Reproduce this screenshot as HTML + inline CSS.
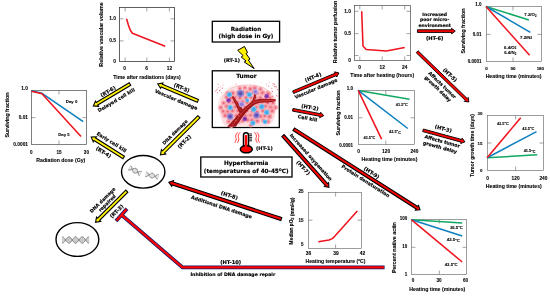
<!DOCTYPE html>
<html><head><meta charset="utf-8"><title>Radiation and hyperthermia</title>
<style>html,body{margin:0;padding:0;background:#fff}svg{display:block}</style></head>
<body>
<svg width="550" height="296" viewBox="0 0 550 296">
<rect width="550" height="296" fill="#fff"/>
<rect x="119.5" y="7.5" width="55.00" height="54.00" fill="#fff" stroke="#3a3a3a" stroke-width="0.8"/>
<path d="M125.10 61.5v-4.0M125.10 7.5v4.0M146.80 61.5v-4.0M146.80 7.5v4.0M169.40 61.5v-4.0M169.40 7.5v4.0M119.5 18.80h4.0M174.5 18.80h-4.0M119.5 40.90h4.0M174.5 40.90h-4.0" stroke="#666" stroke-width="0.6" fill="none"/>
<text x="124.60" y="68.70" font-size="4.8" font-family="Liberation Sans, sans-serif" font-weight="bold" stroke="#111" stroke-width="0.1" text-anchor="middle" dominant-baseline="central" fill="#000">0</text>
<text x="146.60" y="68.70" font-size="4.8" font-family="Liberation Sans, sans-serif" font-weight="bold" stroke="#111" stroke-width="0.1" text-anchor="middle" dominant-baseline="central" fill="#000">6</text>
<text x="169.40" y="68.70" font-size="4.8" font-family="Liberation Sans, sans-serif" font-weight="bold" stroke="#111" stroke-width="0.1" text-anchor="middle" dominant-baseline="central" fill="#000">12</text>
<text x="116.00" y="18.80" font-size="4.8" font-family="Liberation Sans, sans-serif" font-weight="bold" stroke="#111" stroke-width="0.1" text-anchor="end" dominant-baseline="central" fill="#000">1.0</text>
<text x="116.00" y="40.80" font-size="4.8" font-family="Liberation Sans, sans-serif" font-weight="bold" stroke="#111" stroke-width="0.1" text-anchor="end" dominant-baseline="central" fill="#000">0.5</text>
<text x="116.00" y="61.20" font-size="4.8" font-family="Liberation Sans, sans-serif" font-weight="bold" stroke="#111" stroke-width="0.1" text-anchor="end" dominant-baseline="central" fill="#000">0</text>
<text x="147.00" y="76.80" font-size="5.2" font-family="Liberation Sans, sans-serif" font-weight="bold" stroke="#111" stroke-width="0.1" text-anchor="middle" dominant-baseline="central" fill="#000">Time after radiations (days)</text>
<text x="100.70" y="34.50" font-size="5.4" font-family="Liberation Sans, sans-serif" font-weight="bold" stroke="#111" stroke-width="0.1" text-anchor="middle" dominant-baseline="central" fill="#000" transform="rotate(-90.00 100.70 34.50)">Relative vascular volume</text>
<polyline points="126.50,18.80 128.40,25.00 130.20,30.00 132.40,33.20 165.20,46.30" fill="none" stroke="#f0141e" stroke-width="1.55" stroke-linejoin="round" stroke-linecap="butt"/>
<rect x="31.5" y="90.5" width="55.00" height="54.00" fill="#fff" stroke="#4a4a4a" stroke-width="0.7"/>
<path d="M59.00 144.5v-4.0M59.00 90.5v4.0M31.5 117.60h4.0M86.5 117.60h-4.0" stroke="#666" stroke-width="0.6" fill="none"/>
<text x="31.40" y="152.30" font-size="4.6" font-family="Liberation Sans, sans-serif" font-weight="bold" stroke="#111" stroke-width="0.1" text-anchor="middle" dominant-baseline="central" fill="#000">0</text>
<text x="59.00" y="152.30" font-size="4.6" font-family="Liberation Sans, sans-serif" font-weight="bold" stroke="#111" stroke-width="0.1" text-anchor="middle" dominant-baseline="central" fill="#000">15</text>
<text x="86.40" y="152.30" font-size="4.6" font-family="Liberation Sans, sans-serif" font-weight="bold" stroke="#111" stroke-width="0.1" text-anchor="middle" dominant-baseline="central" fill="#000">30</text>
<text x="28.00" y="88.20" font-size="4.8" font-family="Liberation Sans, sans-serif" font-weight="bold" stroke="#111" stroke-width="0.1" text-anchor="end" dominant-baseline="central" fill="#000">1.0</text>
<text x="28.00" y="117.70" font-size="4.8" font-family="Liberation Sans, sans-serif" font-weight="bold" stroke="#111" stroke-width="0.1" text-anchor="end" dominant-baseline="central" fill="#000">0.01</text>
<text x="28.00" y="144.40" font-size="4.8" font-family="Liberation Sans, sans-serif" font-weight="bold" stroke="#111" stroke-width="0.1" text-anchor="end" dominant-baseline="central" fill="#000">0.0001</text>
<text x="60.80" y="160.00" font-size="5.2" font-family="Liberation Sans, sans-serif" font-weight="bold" stroke="#111" stroke-width="0.1" text-anchor="middle" dominant-baseline="central" fill="#000">Radiation dose (Gy)</text>
<text x="7.40" y="115.00" font-size="5.3" font-family="Liberation Sans, sans-serif" font-weight="bold" stroke="#111" stroke-width="0.1" text-anchor="middle" dominant-baseline="central" fill="#000" transform="rotate(-90.00 7.40 115.00)">Surviving fraction</text>
<polyline points="31.40,90.80 42.00,93.30 83.20,121.60" fill="none" stroke="#0e7fbe" stroke-width="1.55" stroke-linejoin="round" stroke-linecap="butt"/>
<polyline points="31.40,91.20 42.00,93.80 81.00,136.60" fill="none" stroke="#f0141e" stroke-width="1.55" stroke-linejoin="round" stroke-linecap="butt"/>
<text x="71.60" y="101.80" font-size="4.3" font-family="Liberation Sans, sans-serif" font-weight="bold" stroke="#111" stroke-width="0.1" text-anchor="middle" dominant-baseline="central" fill="#000">Day 0</text>
<text x="64.00" y="134.80" font-size="4.3" font-family="Liberation Sans, sans-serif" font-weight="bold" stroke="#111" stroke-width="0.1" text-anchor="middle" dominant-baseline="central" fill="#000">Day 5</text>
<rect x="354.5" y="5.5" width="56.00" height="55.00" fill="#fff" stroke="#4a4a4a" stroke-width="0.7"/>
<path d="M359.80 60.5v-4.0M359.80 5.5v4.0M382.20 60.5v-4.0M382.20 5.5v4.0M404.70 60.5v-4.0M404.70 5.5v4.0M354.5 11.30h4.0M410.5 11.30h-4.0M354.5 33.60h4.0M410.5 33.60h-4.0M354.5 55.50h4.0M410.5 55.50h-4.0" stroke="#666" stroke-width="0.6" fill="none"/>
<text x="359.60" y="67.10" font-size="4.8" font-family="Liberation Sans, sans-serif" font-weight="bold" stroke="#111" stroke-width="0.1" text-anchor="middle" dominant-baseline="central" fill="#000">0</text>
<text x="382.20" y="67.10" font-size="4.8" font-family="Liberation Sans, sans-serif" font-weight="bold" stroke="#111" stroke-width="0.1" text-anchor="middle" dominant-baseline="central" fill="#000">12</text>
<text x="404.70" y="67.10" font-size="4.8" font-family="Liberation Sans, sans-serif" font-weight="bold" stroke="#111" stroke-width="0.1" text-anchor="middle" dominant-baseline="central" fill="#000">24</text>
<text x="351.00" y="11.30" font-size="4.8" font-family="Liberation Sans, sans-serif" font-weight="bold" stroke="#111" stroke-width="0.1" text-anchor="end" dominant-baseline="central" fill="#000">1.0</text>
<text x="351.00" y="33.60" font-size="4.8" font-family="Liberation Sans, sans-serif" font-weight="bold" stroke="#111" stroke-width="0.1" text-anchor="end" dominant-baseline="central" fill="#000">0.5</text>
<text x="351.00" y="60.60" font-size="4.8" font-family="Liberation Sans, sans-serif" font-weight="bold" stroke="#111" stroke-width="0.1" text-anchor="end" dominant-baseline="central" fill="#000">0</text>
<text x="382.30" y="74.50" font-size="5.2" font-family="Liberation Sans, sans-serif" font-weight="bold" stroke="#111" stroke-width="0.1" text-anchor="middle" dominant-baseline="central" fill="#000">Time after heating (hours)</text>
<text x="335.40" y="32.00" font-size="5.3" font-family="Liberation Sans, sans-serif" font-weight="bold" stroke="#111" stroke-width="0.1" text-anchor="middle" dominant-baseline="central" fill="#000" transform="rotate(-90.00 335.40 32.00)">Relative tumor perfusion</text>
<polyline points="361.70,11.20 363.00,46.00 366.20,49.60 386.30,51.10 404.70,47.50" fill="none" stroke="#f0141e" stroke-width="1.55" stroke-linejoin="round" stroke-linecap="butt"/>
<rect x="486.5" y="6.5" width="55.00" height="55.00" fill="#fff" stroke="#5a5a5a" stroke-width="0.6"/>
<path d="M513.00 61.5v-4.0M513.00 6.5v4.0M486.5 34.40h4.0M541.5 34.40h-4.0" stroke="#666" stroke-width="0.6" fill="none"/>
<text x="486.40" y="68.20" font-size="4.4" font-family="Liberation Sans, sans-serif" font-weight="bold" stroke="#111" stroke-width="0.1" text-anchor="middle" dominant-baseline="central" fill="#000">0</text>
<text x="513.00" y="68.20" font-size="4.4" font-family="Liberation Sans, sans-serif" font-weight="bold" stroke="#111" stroke-width="0.1" text-anchor="middle" dominant-baseline="central" fill="#000">90</text>
<text x="540.30" y="68.20" font-size="4.4" font-family="Liberation Sans, sans-serif" font-weight="bold" stroke="#111" stroke-width="0.1" text-anchor="middle" dominant-baseline="central" fill="#000">180</text>
<text x="481.50" y="4.90" font-size="4.5" font-family="Liberation Sans, sans-serif" font-weight="bold" stroke="#111" stroke-width="0.1" text-anchor="end" dominant-baseline="central" fill="#000">1.0</text>
<text x="481.50" y="34.40" font-size="4.5" font-family="Liberation Sans, sans-serif" font-weight="bold" stroke="#111" stroke-width="0.1" text-anchor="end" dominant-baseline="central" fill="#000">0.01</text>
<text x="481.50" y="61.80" font-size="4.5" font-family="Liberation Sans, sans-serif" font-weight="bold" stroke="#111" stroke-width="0.1" text-anchor="end" dominant-baseline="central" fill="#000">0.0001</text>
<text x="513.60" y="76.40" font-size="5.2" font-family="Liberation Sans, sans-serif" font-weight="bold" stroke="#111" stroke-width="0.1" text-anchor="middle" dominant-baseline="central" fill="#000">Heating time (minutes)</text>
<text x="462.90" y="31.00" font-size="5.3" font-family="Liberation Sans, sans-serif" font-weight="bold" stroke="#111" stroke-width="0.1" text-anchor="middle" dominant-baseline="central" fill="#000" transform="rotate(-90.00 462.90 31.00)">Surviving fraction</text>
<polyline points="486.00,6.50 528.90,19.90" fill="none" stroke="#10a862" stroke-width="1.55" stroke-linejoin="round" stroke-linecap="butt"/>
<polyline points="486.00,6.50 530.40,32.30" fill="none" stroke="#0e7fbe" stroke-width="1.55" stroke-linejoin="round" stroke-linecap="butt"/>
<polyline points="486.00,6.50 529.60,55.30" fill="none" stroke="#f0141e" stroke-width="1.55" stroke-linejoin="round" stroke-linecap="butt"/>
<text x="530.40" y="14.60" font-size="4.4" font-family="Liberation Sans, sans-serif" font-weight="bold" stroke="#111" stroke-width="0.1" text-anchor="middle" dominant-baseline="central" fill="#000">7.2/O<tspan font-size="2.8" dy="0.9">2</tspan></text>
<text x="526.00" y="37.30" font-size="4.4" font-family="Liberation Sans, sans-serif" font-weight="bold" stroke="#111" stroke-width="0.1" text-anchor="middle" dominant-baseline="central" fill="#000">7.2/N<tspan font-size="2.8" dy="0.9">2</tspan></text>
<text x="510.20" y="47.00" font-size="4.4" font-family="Liberation Sans, sans-serif" font-weight="bold" stroke="#111" stroke-width="0.1" text-anchor="middle" dominant-baseline="central" fill="#000">6.4/O<tspan font-size="2.8" dy="0.9">2</tspan></text>
<text x="510.20" y="52.70" font-size="4.4" font-family="Liberation Sans, sans-serif" font-weight="bold" stroke="#111" stroke-width="0.1" text-anchor="middle" dominant-baseline="central" fill="#000">6.4/N<tspan font-size="2.8" dy="0.9">2</tspan></text>
<rect x="358.5" y="90.5" width="56.00" height="54.00" fill="#fff" stroke="#5a5a5a" stroke-width="0.6"/>
<path d="M385.80 144.5v-4.0M385.80 90.5v4.0M358.5 117.80h4.0M414.5 117.80h-4.0" stroke="#666" stroke-width="0.6" fill="none"/>
<text x="358.70" y="151.50" font-size="4.8" font-family="Liberation Sans, sans-serif" font-weight="bold" stroke="#111" stroke-width="0.1" text-anchor="middle" dominant-baseline="central" fill="#000">0</text>
<text x="386.10" y="151.50" font-size="4.8" font-family="Liberation Sans, sans-serif" font-weight="bold" stroke="#111" stroke-width="0.1" text-anchor="middle" dominant-baseline="central" fill="#000">120</text>
<text x="414.40" y="151.50" font-size="4.8" font-family="Liberation Sans, sans-serif" font-weight="bold" stroke="#111" stroke-width="0.1" text-anchor="middle" dominant-baseline="central" fill="#000">240</text>
<text x="352.90" y="88.30" font-size="4.5" font-family="Liberation Sans, sans-serif" font-weight="bold" stroke="#111" stroke-width="0.1" text-anchor="end" dominant-baseline="central" fill="#000">1.0</text>
<text x="352.90" y="117.80" font-size="4.5" font-family="Liberation Sans, sans-serif" font-weight="bold" stroke="#111" stroke-width="0.1" text-anchor="end" dominant-baseline="central" fill="#000">0.01</text>
<text x="352.90" y="145.00" font-size="4.5" font-family="Liberation Sans, sans-serif" font-weight="bold" stroke="#111" stroke-width="0.1" text-anchor="end" dominant-baseline="central" fill="#000">0.0001</text>
<text x="389.50" y="158.60" font-size="5.2" font-family="Liberation Sans, sans-serif" font-weight="bold" stroke="#111" stroke-width="0.1" text-anchor="middle" dominant-baseline="central" fill="#000">Heating time (minutes)</text>
<text x="337.80" y="113.00" font-size="5.3" font-family="Liberation Sans, sans-serif" font-weight="bold" stroke="#111" stroke-width="0.1" text-anchor="middle" dominant-baseline="central" fill="#000" transform="rotate(-90.00 337.80 113.00)">Surviving fraction</text>
<polyline points="358.20,90.40 409.60,99.30" fill="none" stroke="#10a862" stroke-width="1.55" stroke-linejoin="round" stroke-linecap="butt"/>
<polyline points="358.20,90.40 407.80,128.50" fill="none" stroke="#0e7fbe" stroke-width="1.55" stroke-linejoin="round" stroke-linecap="butt"/>
<polyline points="358.20,90.40 381.60,139.20" fill="none" stroke="#f0141e" stroke-width="1.55" stroke-linejoin="round" stroke-linecap="butt"/>
<text x="401.80" y="104.00" font-size="3.9" font-family="Liberation Sans, sans-serif" font-weight="bold" stroke="#111" stroke-width="0.1" text-anchor="middle" dominant-baseline="central" fill="#000">41.5<tspan font-size="2.5" dy="-1.1">o</tspan><tspan dy="1.1">C</tspan></text>
<text x="395.00" y="131.50" font-size="3.9" font-family="Liberation Sans, sans-serif" font-weight="bold" stroke="#111" stroke-width="0.1" text-anchor="middle" dominant-baseline="central" fill="#000">42.5<tspan font-size="2.5" dy="-1.1">o</tspan><tspan dy="1.1">C</tspan></text>
<text x="369.40" y="137.40" font-size="3.9" font-family="Liberation Sans, sans-serif" font-weight="bold" stroke="#111" stroke-width="0.1" text-anchor="middle" dominant-baseline="central" fill="#000">43.5<tspan font-size="2.5" dy="-1.1">o</tspan><tspan dy="1.1">C</tspan></text>
<rect x="487.5" y="115.5" width="56.00" height="55.00" fill="#fff" stroke="#5a5a5a" stroke-width="0.6"/>
<path d="M515.60 170.5v-4.0M515.60 115.5v4.0M487.5 143.00h4.0M543.5 143.00h-4.0" stroke="#666" stroke-width="0.6" fill="none"/>
<text x="487.60" y="178.20" font-size="4.8" font-family="Liberation Sans, sans-serif" font-weight="bold" stroke="#111" stroke-width="0.1" text-anchor="middle" dominant-baseline="central" fill="#000">0</text>
<text x="515.60" y="178.20" font-size="4.8" font-family="Liberation Sans, sans-serif" font-weight="bold" stroke="#111" stroke-width="0.1" text-anchor="middle" dominant-baseline="central" fill="#000">120</text>
<text x="543.40" y="178.20" font-size="4.8" font-family="Liberation Sans, sans-serif" font-weight="bold" stroke="#111" stroke-width="0.1" text-anchor="middle" dominant-baseline="central" fill="#000">240</text>
<text x="482.50" y="113.80" font-size="4.4" font-family="Liberation Sans, sans-serif" font-weight="bold" stroke="#111" stroke-width="0.1" text-anchor="end" dominant-baseline="central" fill="#000">30</text>
<text x="482.50" y="143.00" font-size="4.4" font-family="Liberation Sans, sans-serif" font-weight="bold" stroke="#111" stroke-width="0.1" text-anchor="end" dominant-baseline="central" fill="#000">15</text>
<text x="482.50" y="170.00" font-size="4.4" font-family="Liberation Sans, sans-serif" font-weight="bold" stroke="#111" stroke-width="0.1" text-anchor="end" dominant-baseline="central" fill="#000">0</text>
<text x="513.80" y="186.30" font-size="5.2" font-family="Liberation Sans, sans-serif" font-weight="bold" stroke="#111" stroke-width="0.1" text-anchor="middle" dominant-baseline="central" fill="#000">Heating time (minutes)</text>
<text x="471.60" y="145.50" font-size="5.15" font-family="Liberation Sans, sans-serif" font-weight="bold" stroke="#111" stroke-width="0.1" text-anchor="middle" dominant-baseline="central" fill="#000" transform="rotate(-90.00 471.60 145.50)">Tumor growth time (days)</text>
<polyline points="487.10,157.80 537.20,154.80" fill="none" stroke="#10a862" stroke-width="1.55" stroke-linejoin="round" stroke-linecap="butt"/>
<polyline points="487.10,157.80 536.50,131.60" fill="none" stroke="#0e7fbe" stroke-width="1.55" stroke-linejoin="round" stroke-linecap="butt"/>
<polyline points="487.10,157.80 520.70,117.80" fill="none" stroke="#f0141e" stroke-width="1.55" stroke-linejoin="round" stroke-linecap="butt"/>
<text x="502.90" y="123.40" font-size="3.9" font-family="Liberation Sans, sans-serif" font-weight="bold" stroke="#111" stroke-width="0.1" text-anchor="middle" dominant-baseline="central" fill="#000">43.5<tspan font-size="2.5" dy="-1.1">o</tspan><tspan dy="1.1">C</tspan></text>
<text x="528.30" y="128.00" font-size="3.9" font-family="Liberation Sans, sans-serif" font-weight="bold" stroke="#111" stroke-width="0.1" text-anchor="middle" dominant-baseline="central" fill="#000">42.5<tspan font-size="2.5" dy="-1.1">o</tspan><tspan dy="1.1">C</tspan></text>
<text x="529.60" y="150.70" font-size="3.9" font-family="Liberation Sans, sans-serif" font-weight="bold" stroke="#111" stroke-width="0.1" text-anchor="middle" dominant-baseline="central" fill="#000">41.5<tspan font-size="2.5" dy="-1.1">o</tspan><tspan dy="1.1">C</tspan></text>
<rect x="308.5" y="192.5" width="53.00" height="56.00" fill="#fff" stroke="#5a5a5a" stroke-width="0.6"/>
<path d="M335.60 248.5v-4.0M335.60 192.5v4.0M308.5 220.20h4.0M361.5 220.20h-4.0" stroke="#666" stroke-width="0.6" fill="none"/>
<text x="308.60" y="253.80" font-size="4.9" font-family="Liberation Sans, sans-serif" font-weight="bold" stroke="#111" stroke-width="0.1" text-anchor="middle" dominant-baseline="central" fill="#000">36</text>
<text x="336.00" y="253.80" font-size="4.9" font-family="Liberation Sans, sans-serif" font-weight="bold" stroke="#111" stroke-width="0.1" text-anchor="middle" dominant-baseline="central" fill="#000">39</text>
<text x="362.60" y="253.80" font-size="4.9" font-family="Liberation Sans, sans-serif" font-weight="bold" stroke="#111" stroke-width="0.1" text-anchor="middle" dominant-baseline="central" fill="#000">42</text>
<text x="303.50" y="191.00" font-size="4.5" font-family="Liberation Sans, sans-serif" font-weight="bold" stroke="#111" stroke-width="0.1" text-anchor="end" dominant-baseline="central" fill="#000">25</text>
<text x="303.50" y="220.20" font-size="4.5" font-family="Liberation Sans, sans-serif" font-weight="bold" stroke="#111" stroke-width="0.1" text-anchor="end" dominant-baseline="central" fill="#000">15</text>
<text x="303.50" y="244.90" font-size="4.5" font-family="Liberation Sans, sans-serif" font-weight="bold" stroke="#111" stroke-width="0.1" text-anchor="end" dominant-baseline="central" fill="#000">5</text>
<text x="335.50" y="260.80" font-size="5.1" font-family="Liberation Sans, sans-serif" font-weight="bold" stroke="#111" stroke-width="0.1" text-anchor="middle" dominant-baseline="central" fill="#000">Heating temperature (<tspan font-size="3.2" dy="-1.2">o</tspan><tspan dy="1.2">C)</tspan></text>
<text x="291.60" y="221.00" font-size="4.9" font-family="Liberation Sans, sans-serif" font-weight="bold" stroke="#111" stroke-width="0.1" text-anchor="middle" dominant-baseline="central" fill="#000" transform="rotate(-90.00 291.60 221.00)">Median pO<tspan font-size="3.4" dy="1">2</tspan><tspan dy="-1"> (mmHg)</tspan></text>
<polyline points="318.30,241.80 329.00,240.00 332.30,238.60 334.50,236.50 357.30,211.00" fill="none" stroke="#f0141e" stroke-width="1.55" stroke-linejoin="round" stroke-linecap="butt"/>
<rect x="411.5" y="219.5" width="55.00" height="55.00" fill="#fff" stroke="#5a5a5a" stroke-width="0.6"/>
<path d="M439.30 274.5v-4.0M439.30 219.5v4.0M411.5 247.30h4.0M466.5 247.30h-4.0" stroke="#666" stroke-width="0.6" fill="none"/>
<text x="413.00" y="280.60" font-size="4.6" font-family="Liberation Sans, sans-serif" font-weight="bold" stroke="#111" stroke-width="0.1" text-anchor="middle" dominant-baseline="central" fill="#000">0</text>
<text x="439.00" y="280.60" font-size="4.6" font-family="Liberation Sans, sans-serif" font-weight="bold" stroke="#111" stroke-width="0.1" text-anchor="middle" dominant-baseline="central" fill="#000">30</text>
<text x="465.60" y="280.60" font-size="4.6" font-family="Liberation Sans, sans-serif" font-weight="bold" stroke="#111" stroke-width="0.1" text-anchor="middle" dominant-baseline="central" fill="#000">60</text>
<text x="407.20" y="218.00" font-size="4.5" font-family="Liberation Sans, sans-serif" font-weight="bold" stroke="#111" stroke-width="0.1" text-anchor="end" dominant-baseline="central" fill="#000">100</text>
<text x="407.20" y="246.80" font-size="4.5" font-family="Liberation Sans, sans-serif" font-weight="bold" stroke="#111" stroke-width="0.1" text-anchor="end" dominant-baseline="central" fill="#000">10</text>
<text x="407.20" y="274.20" font-size="4.5" font-family="Liberation Sans, sans-serif" font-weight="bold" stroke="#111" stroke-width="0.1" text-anchor="end" dominant-baseline="central" fill="#000">1</text>
<text x="437.30" y="288.80" font-size="5.2" font-family="Liberation Sans, sans-serif" font-weight="bold" stroke="#111" stroke-width="0.1" text-anchor="middle" dominant-baseline="central" fill="#000">Heating time (minutes)</text>
<text x="393.60" y="247.60" font-size="5.4" font-family="Liberation Sans, sans-serif" font-weight="bold" stroke="#111" stroke-width="0.1" text-anchor="middle" dominant-baseline="central" fill="#000" transform="rotate(-90.00 393.60 247.60)">Percent native actin</text>
<polyline points="411.60,219.80 462.20,223.10" fill="none" stroke="#10a862" stroke-width="1.55" stroke-linejoin="round" stroke-linecap="butt"/>
<polyline points="411.60,219.80 462.20,235.90" fill="none" stroke="#0e7fbe" stroke-width="1.55" stroke-linejoin="round" stroke-linecap="butt"/>
<polyline points="411.60,219.80 462.20,262.00" fill="none" stroke="#f0141e" stroke-width="1.55" stroke-linejoin="round" stroke-linecap="butt"/>
<text x="456.40" y="227.30" font-size="4.3" font-family="Liberation Sans, sans-serif" font-weight="bold" stroke="#111" stroke-width="0.1" text-anchor="middle" dominant-baseline="central" fill="#000">36.5<tspan font-size="2.5" dy="-1.1">o</tspan><tspan dy="1.1">C</tspan></text>
<text x="453.30" y="239.60" font-size="4.3" font-family="Liberation Sans, sans-serif" font-weight="bold" stroke="#111" stroke-width="0.1" text-anchor="middle" dominant-baseline="central" fill="#000">42.5<tspan font-size="2.5" dy="-1.1">o</tspan><tspan dy="1.1">C</tspan></text>
<text x="451.20" y="264.30" font-size="4.3" font-family="Liberation Sans, sans-serif" font-weight="bold" stroke="#111" stroke-width="0.1" text-anchor="middle" dominant-baseline="central" fill="#000">43.5<tspan font-size="2.5" dy="-1.1">o</tspan><tspan dy="1.1">C</tspan></text>
<rect x="212.3" y="21.3" width="67.30" height="20.70" fill="#fff" stroke="#000" stroke-width="1.3"/>
<text x="246.00" y="28.50" font-size="5.65" font-family="DejaVu Sans, Liberation Sans, sans-serif" font-weight="bold" stroke="#000" stroke-width="0.16" text-anchor="middle" dominant-baseline="central" fill="#000">Radiation</text>
<text x="246.00" y="36.00" font-size="5.7" font-family="DejaVu Sans, Liberation Sans, sans-serif" font-weight="bold" stroke="#000" stroke-width="0.16" text-anchor="middle" dominant-baseline="central" fill="#000">(high dose in Gy)</text>
<rect x="212.3" y="70.8" width="67.00" height="56.70" fill="#fff" stroke="#000" stroke-width="1.3"/>
<text x="246.40" y="76.20" font-size="5.8" font-family="DejaVu Sans, Liberation Sans, sans-serif" font-weight="bold" stroke="#000" stroke-width="0.16" text-anchor="middle" dominant-baseline="central" fill="#000">Tumor</text>
<rect x="200.8" y="157" width="91.20" height="20.00" fill="#fff" stroke="#000" stroke-width="1.3"/>
<text x="246.20" y="163.30" font-size="5.7" font-family="DejaVu Sans, Liberation Sans, sans-serif" font-weight="bold" stroke="#000" stroke-width="0.16" text-anchor="middle" dominant-baseline="central" fill="#000">Hyperthermia</text>
<text x="246.20" y="171.00" font-size="5.7" font-family="DejaVu Sans, Liberation Sans, sans-serif" font-weight="bold" stroke="#000" stroke-width="0.16" text-anchor="middle" dominant-baseline="central" fill="#000">(temperatures of 40-45<tspan font-size="3.5" dy="-1.1">O</tspan><tspan dy="1.1">C)</tspan></text>
<polygon points="237.7,50.3 244.5,46.5 247.6,52.6 246,53.5 250,59.1 248.3,60 254.2,68.6 244.2,62 246,60.9 241.2,57 243.1,55.7" fill="#fff200" stroke="#000" stroke-width="1.0" stroke-linejoin="miter"/>
<text x="231.90" y="59.70" font-size="4.95" font-family="DejaVu Sans, Liberation Sans, sans-serif" font-weight="bold" stroke="#000" stroke-width="0.16" text-anchor="middle" dominant-baseline="central" fill="#000">(RT-1)</text>
<g id="thermo">
<rect x="243.5" y="132.7" width="5.0" height="15" rx="2.5" fill="#fff" stroke="#000" stroke-width="1.5"/>
<ellipse cx="246.3" cy="149.2" rx="5.9" ry="3.6" fill="#f00" stroke="#000" stroke-width="1.6"/>
<rect x="244.8" y="135" width="2.4" height="12.7" fill="#f00"/>
<ellipse cx="246.3" cy="149.2" rx="4.6" ry="2.5" fill="#f00"/>
<path d="M249.2 134h2.8M249.2 135.7h2.8M249.2 137.4h2.8M249.2 139.1h2.8M249.2 140.8h2.8" stroke="#000" stroke-width="0.9"/>
<path d="M237.6 132.3 c-1.7 2 -2.4 3.4 -1.7 5.2 c0.7 1.8 0.3 3.2 -1.2 5.3" fill="none" stroke="#f00" stroke-width="0.75"/>
<path d="M240.2 132.3 c-1.7 2 -2.4 3.4 -1.7 5.2 c0.7 1.8 0.3 3.2 -1.2 5.3" fill="none" stroke="#f00" stroke-width="0.75"/>
<path d="M254.5 132.3 c1.7 2 2.4 3.4 1.7 5.2 c-0.7 1.8 -0.3 3.2 1.2 5.3" fill="none" stroke="#f00" stroke-width="0.75"/>
<path d="M256.9 132.3 c1.7 2 2.4 3.4 1.7 5.2 c-0.7 1.8 -0.3 3.2 1.2 5.3" fill="none" stroke="#f00" stroke-width="0.75"/>
</g>
<text x="264.40" y="147.50" font-size="4.95" font-family="DejaVu Sans, Liberation Sans, sans-serif" font-weight="bold" stroke="#000" stroke-width="0.16" text-anchor="middle" dominant-baseline="central" fill="#000">(HT-1)</text>
<g id="tumor">
<path d="M221 118 C217 108 219 96 226 91 C232 85 242 84 250 85 C258 84 268 88 272 94 C277 100 277 112 274 119 C272 124 268 126.5 262 126.5 L226 126.5 C223 125 222 122 221 118Z" fill="#fcdde0"/>
<path d="M222 100 C224 90 236 84 250 85 C262 85 272 90 275 100" fill="none" stroke="#e9b8a8" stroke-width="0.5"/>
<path d="M219 112 C216 100 222 88 236 85" fill="none" stroke="#f3c9c0" stroke-width="0.4"/>
<circle cx="239.9" cy="88.4" r="2.4" fill="#f7a4ae"/><circle cx="239.9" cy="88.4" r="1.0" fill="#e96878"/>
<circle cx="244.8" cy="87.8" r="2.4" fill="#f7a4ae"/><circle cx="244.8" cy="87.8" r="1.0" fill="#e96878"/>
<circle cx="250.3" cy="89.0" r="2.8" fill="#f7a4ae"/><circle cx="250.3" cy="89.0" r="1.2" fill="#e96878"/>
<circle cx="254.7" cy="88.1" r="2.8" fill="#f7a4ae"/><circle cx="254.7" cy="88.1" r="1.2" fill="#e96878"/>
<circle cx="260.4" cy="89.2" r="2.4" fill="#f7a4ae"/><circle cx="260.4" cy="89.2" r="1.0" fill="#e96878"/>
<circle cx="228.0" cy="93.6" r="2.8" fill="#f7a4ae"/><circle cx="228.0" cy="93.6" r="1.2" fill="#e96878"/>
<circle cx="232.7" cy="93.2" r="2.9" fill="#f7a4ae"/><circle cx="232.7" cy="93.2" r="1.2" fill="#e96878"/>
<circle cx="238.3" cy="92.9" r="2.7" fill="#f7a4ae"/><circle cx="238.3" cy="92.9" r="1.1" fill="#e96878"/>
<circle cx="243.1" cy="92.4" r="2.5" fill="#f7a4ae"/><circle cx="243.1" cy="92.4" r="1.1" fill="#e96878"/>
<circle cx="247.2" cy="92.6" r="2.6" fill="#f7a4ae"/><circle cx="247.2" cy="92.6" r="1.1" fill="#e96878"/>
<circle cx="253.1" cy="93.0" r="2.4" fill="#f7a4ae"/><circle cx="253.1" cy="93.0" r="1.0" fill="#e96878"/>
<circle cx="257.4" cy="93.2" r="2.3" fill="#f7a4ae"/><circle cx="257.4" cy="93.2" r="1.0" fill="#e96878"/>
<circle cx="262.5" cy="92.8" r="2.9" fill="#f7a4ae"/><circle cx="262.5" cy="92.8" r="1.2" fill="#e96878"/>
<circle cx="268.0" cy="93.4" r="2.7" fill="#f7a4ae"/><circle cx="268.0" cy="93.4" r="1.1" fill="#e96878"/>
<circle cx="226.7" cy="97.1" r="2.6" fill="#f7a4ae"/><circle cx="226.7" cy="97.1" r="1.1" fill="#e96878"/>
<circle cx="230.7" cy="98.1" r="2.9" fill="#f7a4ae"/><circle cx="230.7" cy="98.1" r="1.2" fill="#e96878"/>
<circle cx="235.1" cy="97.7" r="2.6" fill="#f7a4ae"/><circle cx="235.1" cy="97.7" r="1.1" fill="#e96878"/>
<circle cx="239.9" cy="98.0" r="2.8" fill="#f7a4ae"/><circle cx="239.9" cy="98.0" r="1.2" fill="#e96878"/>
<circle cx="245.9" cy="97.8" r="2.8" fill="#f7a4ae"/><circle cx="245.9" cy="97.8" r="1.2" fill="#e96878"/>
<circle cx="251.0" cy="97.4" r="2.4" fill="#f7a4ae"/><circle cx="251.0" cy="97.4" r="1.0" fill="#e96878"/>
<circle cx="255.6" cy="97.9" r="2.5" fill="#f7a4ae"/><circle cx="255.6" cy="97.9" r="1.0" fill="#e96878"/>
<circle cx="260.3" cy="97.6" r="2.5" fill="#f7a4ae"/><circle cx="260.3" cy="97.6" r="1.0" fill="#e96878"/>
<circle cx="265.6" cy="98.4" r="2.4" fill="#f7a4ae"/><circle cx="265.6" cy="98.4" r="1.0" fill="#e96878"/>
<circle cx="270.0" cy="98.0" r="2.7" fill="#f7a4ae"/><circle cx="270.0" cy="98.0" r="1.1" fill="#e96878"/>
<circle cx="223.6" cy="103.1" r="2.5" fill="#f7a4ae"/><circle cx="223.6" cy="103.1" r="1.0" fill="#e96878"/>
<circle cx="228.8" cy="102.0" r="2.6" fill="#f7a4ae"/><circle cx="228.8" cy="102.0" r="1.1" fill="#e96878"/>
<circle cx="233.0" cy="102.6" r="2.4" fill="#f7a4ae"/><circle cx="233.0" cy="102.6" r="1.0" fill="#e96878"/>
<circle cx="237.3" cy="102.2" r="2.8" fill="#f7a4ae"/><circle cx="237.3" cy="102.2" r="1.2" fill="#e96878"/>
<circle cx="242.5" cy="101.7" r="2.5" fill="#f7a4ae"/><circle cx="242.5" cy="101.7" r="1.1" fill="#e96878"/>
<circle cx="247.2" cy="102.7" r="2.6" fill="#f7a4ae"/><circle cx="247.2" cy="102.7" r="1.1" fill="#e96878"/>
<circle cx="252.2" cy="101.9" r="2.7" fill="#f7a4ae"/><circle cx="252.2" cy="101.9" r="1.1" fill="#e96878"/>
<circle cx="257.5" cy="102.9" r="2.8" fill="#f7a4ae"/><circle cx="257.5" cy="102.9" r="1.2" fill="#e96878"/>
<circle cx="261.9" cy="102.2" r="2.6" fill="#f7a4ae"/><circle cx="261.9" cy="102.2" r="1.1" fill="#e96878"/>
<circle cx="267.6" cy="102.9" r="2.9" fill="#f7a4ae"/><circle cx="267.6" cy="102.9" r="1.2" fill="#e96878"/>
<circle cx="272.9" cy="102.9" r="2.6" fill="#f7a4ae"/><circle cx="272.9" cy="102.9" r="1.1" fill="#e96878"/>
<circle cx="220.8" cy="107.5" r="2.6" fill="#f7a4ae"/><circle cx="220.8" cy="107.5" r="1.1" fill="#e96878"/>
<circle cx="226.6" cy="106.3" r="2.6" fill="#f7a4ae"/><circle cx="226.6" cy="106.3" r="1.1" fill="#e96878"/>
<circle cx="230.3" cy="106.5" r="2.3" fill="#f7a4ae"/><circle cx="230.3" cy="106.5" r="1.0" fill="#e96878"/>
<circle cx="235.3" cy="106.9" r="2.6" fill="#f7a4ae"/><circle cx="235.3" cy="106.9" r="1.1" fill="#e96878"/>
<circle cx="240.7" cy="106.5" r="2.4" fill="#f7a4ae"/><circle cx="240.7" cy="106.5" r="1.0" fill="#e96878"/>
<circle cx="244.7" cy="106.8" r="2.3" fill="#f7a4ae"/><circle cx="244.7" cy="106.8" r="1.0" fill="#e96878"/>
<circle cx="250.2" cy="107.0" r="2.8" fill="#f7a4ae"/><circle cx="250.2" cy="107.0" r="1.2" fill="#e96878"/>
<circle cx="256.0" cy="107.2" r="2.4" fill="#f7a4ae"/><circle cx="256.0" cy="107.2" r="1.0" fill="#e96878"/>
<circle cx="260.2" cy="107.1" r="2.6" fill="#f7a4ae"/><circle cx="260.2" cy="107.1" r="1.1" fill="#e96878"/>
<circle cx="265.4" cy="106.2" r="2.7" fill="#f7a4ae"/><circle cx="265.4" cy="106.2" r="1.1" fill="#e96878"/>
<circle cx="270.6" cy="107.3" r="2.6" fill="#f7a4ae"/><circle cx="270.6" cy="107.3" r="1.1" fill="#e96878"/>
<circle cx="275.5" cy="107.4" r="2.5" fill="#f7a4ae"/><circle cx="275.5" cy="107.4" r="1.0" fill="#e96878"/>
<circle cx="223.2" cy="111.3" r="2.6" fill="#f7a4ae"/><circle cx="223.2" cy="111.3" r="1.1" fill="#e96878"/>
<circle cx="227.7" cy="111.7" r="2.6" fill="#f7a4ae"/><circle cx="227.7" cy="111.7" r="1.1" fill="#e96878"/>
<circle cx="232.5" cy="110.8" r="2.8" fill="#f7a4ae"/><circle cx="232.5" cy="110.8" r="1.2" fill="#e96878"/>
<circle cx="237.6" cy="111.0" r="2.4" fill="#f7a4ae"/><circle cx="237.6" cy="111.0" r="1.0" fill="#e96878"/>
<circle cx="242.7" cy="110.8" r="2.6" fill="#f7a4ae"/><circle cx="242.7" cy="110.8" r="1.1" fill="#e96878"/>
<circle cx="247.1" cy="110.9" r="2.4" fill="#f7a4ae"/><circle cx="247.1" cy="110.9" r="1.0" fill="#e96878"/>
<circle cx="252.2" cy="111.3" r="2.5" fill="#f7a4ae"/><circle cx="252.2" cy="111.3" r="1.0" fill="#e96878"/>
<circle cx="256.9" cy="112.1" r="2.8" fill="#f7a4ae"/><circle cx="256.9" cy="112.1" r="1.2" fill="#e96878"/>
<circle cx="262.8" cy="110.9" r="2.6" fill="#f7a4ae"/><circle cx="262.8" cy="110.9" r="1.1" fill="#e96878"/>
<circle cx="267.1" cy="111.3" r="2.6" fill="#f7a4ae"/><circle cx="267.1" cy="111.3" r="1.1" fill="#e96878"/>
<circle cx="272.2" cy="110.9" r="2.8" fill="#f7a4ae"/><circle cx="272.2" cy="110.9" r="1.2" fill="#e96878"/>
<circle cx="225.2" cy="115.5" r="2.8" fill="#f7a4ae"/><circle cx="225.2" cy="115.5" r="1.2" fill="#e96878"/>
<circle cx="230.5" cy="115.7" r="2.6" fill="#f7a4ae"/><circle cx="230.5" cy="115.7" r="1.1" fill="#e96878"/>
<circle cx="236.2" cy="115.6" r="2.7" fill="#f7a4ae"/><circle cx="236.2" cy="115.6" r="1.1" fill="#e96878"/>
<circle cx="239.8" cy="116.8" r="2.6" fill="#f7a4ae"/><circle cx="239.8" cy="116.8" r="1.1" fill="#e96878"/>
<circle cx="245.5" cy="115.5" r="2.6" fill="#f7a4ae"/><circle cx="245.5" cy="115.5" r="1.1" fill="#e96878"/>
<circle cx="250.5" cy="115.3" r="2.7" fill="#f7a4ae"/><circle cx="250.5" cy="115.3" r="1.1" fill="#e96878"/>
<circle cx="255.3" cy="116.9" r="2.6" fill="#f7a4ae"/><circle cx="255.3" cy="116.9" r="1.1" fill="#e96878"/>
<circle cx="260.8" cy="116.4" r="2.6" fill="#f7a4ae"/><circle cx="260.8" cy="116.4" r="1.1" fill="#e96878"/>
<circle cx="264.7" cy="115.9" r="2.6" fill="#f7a4ae"/><circle cx="264.7" cy="115.9" r="1.1" fill="#e96878"/>
<circle cx="269.5" cy="116.5" r="2.9" fill="#f7a4ae"/><circle cx="269.5" cy="116.5" r="1.2" fill="#e96878"/>
<circle cx="228.8" cy="121.5" r="2.7" fill="#f7a4ae"/><circle cx="228.8" cy="121.5" r="1.1" fill="#e96878"/>
<circle cx="233.8" cy="121.2" r="2.8" fill="#f7a4ae"/><circle cx="233.8" cy="121.2" r="1.2" fill="#e96878"/>
<circle cx="238.6" cy="121.1" r="2.9" fill="#f7a4ae"/><circle cx="238.6" cy="121.1" r="1.2" fill="#e96878"/>
<circle cx="242.6" cy="120.7" r="2.5" fill="#f7a4ae"/><circle cx="242.6" cy="120.7" r="1.0" fill="#e96878"/>
<circle cx="247.7" cy="119.9" r="2.6" fill="#f7a4ae"/><circle cx="247.7" cy="119.9" r="1.1" fill="#e96878"/>
<circle cx="252.0" cy="120.3" r="2.9" fill="#f7a4ae"/><circle cx="252.0" cy="120.3" r="1.2" fill="#e96878"/>
<circle cx="257.3" cy="121.0" r="2.8" fill="#f7a4ae"/><circle cx="257.3" cy="121.0" r="1.2" fill="#e96878"/>
<circle cx="263.3" cy="120.6" r="2.4" fill="#f7a4ae"/><circle cx="263.3" cy="120.6" r="1.0" fill="#e96878"/>
<circle cx="268.2" cy="121.5" r="2.4" fill="#f7a4ae"/><circle cx="268.2" cy="121.5" r="1.0" fill="#e96878"/>
<circle cx="231.3" cy="125.3" r="2.6" fill="#f7a4ae"/><circle cx="231.3" cy="125.3" r="1.1" fill="#e96878"/>
<circle cx="250.8" cy="125.3" r="2.3" fill="#f7a4ae"/><circle cx="250.8" cy="125.3" r="1.0" fill="#e96878"/>
<path d="M227 126.8 C232 122 236 117 239.4 112.8 C237 107.5 234.4 102.5 231.6 97 L233.2 96 C236.2 100.6 239.6 105 242.8 109.2 C246 106 249.5 103.6 252 101.2 C253.2 98.5 253.8 96 254.4 93.2 L256.2 93.6 C256.2 96.2 255.8 98.4 255.2 100.2 C258 99 261 98.7 264 98.9 C268 99.1 272 99.1 275.6 98.9 L275.8 101.3 C272 102.2 268 102.6 264 102.6 C260 102.4 257.4 103 254.6 104.8 C250.6 107.6 247.2 111 244.4 114.6 C241.4 118.6 238.6 122.6 235.8 126.8Z" fill="#9c1719"/>
<path d="M231.4 126.5 C235.2 121.5 238.8 117 242 112.8 C245.8 108.6 250 105.2 253.6 102.6 C257 101 260.5 100.7 264 100.8 L275 100.2" fill="none" stroke="#d43a3c" stroke-width="1.0"/>
<path d="M241.3 111 C238.8 106.5 235.8 101.5 232.6 96.8 M253.6 102 C254.6 99 255.2 96.5 255.4 93.8" fill="none" stroke="#d43a3c" stroke-width="0.6"/>
<circle cx="238.5" cy="115.5" r="0.7" fill="#ee5555"/><circle cx="236" cy="120.5" r="0.7" fill="#ee5555"/><circle cx="240" cy="113.5" r="0.6" fill="#ee5555"/>
<circle cx="229.4" cy="94.6" r="2.7" fill="#6fc2f4"/><circle cx="229.4" cy="94.6" r="1.6" fill="#3fa6ea"/>
<circle cx="249.3" cy="94.6" r="2.7" fill="#6fc2f4"/><circle cx="249.3" cy="94.6" r="1.6" fill="#3fa6ea"/>
<circle cx="230.2" cy="107.6" r="2.7" fill="#6fc2f4"/><circle cx="230.2" cy="107.6" r="1.6" fill="#3fa6ea"/>
<circle cx="247.2" cy="100.3" r="2.0" fill="#6fc2f4"/><circle cx="247.2" cy="100.3" r="1.2" fill="#3fa6ea"/>
<circle cx="253.7" cy="109.2" r="2.8" fill="#6fc2f4"/><circle cx="253.7" cy="109.2" r="1.7" fill="#3fa6ea"/>
<circle cx="261.8" cy="106.7" r="2.7" fill="#6fc2f4"/><circle cx="261.8" cy="106.7" r="1.6" fill="#3fa6ea"/>
<circle cx="266.7" cy="112.4" r="2.7" fill="#6fc2f4"/><circle cx="266.7" cy="112.4" r="1.6" fill="#3fa6ea"/>
<circle cx="252.9" cy="123" r="2.6" fill="#6fc2f4"/><circle cx="252.9" cy="123" r="1.6" fill="#3fa6ea"/>
<circle cx="265" cy="121.8" r="2.4" fill="#6fc2f4"/><circle cx="265" cy="121.8" r="1.4" fill="#3fa6ea"/>
<circle cx="240.5" cy="93.4" r="3.6" fill="#8f86d6"/><circle cx="240.5" cy="93.4" r="2.0" fill="#5a54a8"/>
<circle cx="255.3" cy="91.7" r="2.8" fill="#b9a6e8"/><circle cx="255.3" cy="91.7" r="1.5" fill="#8f78d0"/>
<circle cx="228.6" cy="100.3" r="2.4" fill="#a04fc0"/><circle cx="228.6" cy="100.3" r="1.3" fill="#7a2f9a"/>
<circle cx="241.6" cy="104.3" r="2.8" fill="#b3a2e6"/><circle cx="241.6" cy="104.3" r="1.5" fill="#8a76cf"/>
<circle cx="266.7" cy="96.2" r="2.4" fill="#a04fc0"/><circle cx="266.7" cy="96.2" r="1.3" fill="#7a2f9a"/>
<circle cx="230.2" cy="116.5" r="3.2" fill="#9384d8"/><circle cx="230.2" cy="116.5" r="1.8" fill="#6450b4"/>
<circle cx="256.5" cy="115.3" r="3.2" fill="#9384d8"/><circle cx="256.5" cy="115.3" r="1.8" fill="#6450b4"/>
<circle cx="244.8" cy="118.9" r="2.4" fill="#a04fc0"/><circle cx="244.8" cy="118.9" r="1.3" fill="#7a2f9a"/>
<circle cx="217.5" cy="88.9" r="0.41" fill="#ee5f78"/>
<circle cx="220.6" cy="89.6" r="0.32" fill="#ee5f78"/>
<circle cx="215.6" cy="91.5" r="0.38" fill="#ee5f78"/>
<circle cx="217.5" cy="93.0" r="0.44" fill="#ee5f78"/>
<circle cx="222.6" cy="88.3" r="0.49" fill="#ee5f78"/>
<circle cx="216.8" cy="89.7" r="0.56" fill="#ee5f78"/>
<circle cx="219.9" cy="90.7" r="0.50" fill="#ee5f78"/>
<circle cx="216.0" cy="90.8" r="0.48" fill="#ee5f78"/>
<circle cx="218.1" cy="84.3" r="0.56" fill="#ee5f78"/>
<circle cx="219.5" cy="90.5" r="0.56" fill="#ee5f78"/>
<circle cx="221.6" cy="92.3" r="0.42" fill="#ee5f78"/>
<circle cx="222.3" cy="88.0" r="0.58" fill="#ee5f78"/>
<circle cx="223.0" cy="84.9" r="0.34" fill="#ee5f78"/>
<circle cx="217.3" cy="92.7" r="0.43" fill="#ee5f78"/>
<circle cx="220.8" cy="86.7" r="0.45" fill="#ee5f78"/>
<circle cx="218.8" cy="87.2" r="0.48" fill="#ee5f78"/>
<circle cx="272.7" cy="96.4" r="0.50" fill="#ee5f78"/>
<circle cx="276.7" cy="95.6" r="0.60" fill="#ee5f78"/>
<circle cx="273.7" cy="83.8" r="0.56" fill="#ee5f78"/>
<circle cx="277.1" cy="96.4" r="0.47" fill="#ee5f78"/>
<circle cx="274.2" cy="84.6" r="0.55" fill="#ee5f78"/>
<circle cx="272.6" cy="85.8" r="0.32" fill="#ee5f78"/>
<circle cx="275.8" cy="97.8" r="0.33" fill="#ee5f78"/>
<circle cx="275.2" cy="88.0" r="0.35" fill="#ee5f78"/>
<circle cx="269.4" cy="94.1" r="0.56" fill="#ee5f78"/>
<circle cx="266.5" cy="91.4" r="0.31" fill="#ee5f78"/>
<circle cx="274.3" cy="86.6" r="0.56" fill="#ee5f78"/>
<circle cx="277.3" cy="89.6" r="0.60" fill="#ee5f78"/>
<circle cx="269.6" cy="82.3" r="0.48" fill="#ee5f78"/>
<circle cx="266.4" cy="84.4" r="0.42" fill="#ee5f78"/>
<circle cx="273.0" cy="83.7" r="0.31" fill="#ee5f78"/>
<circle cx="276.0" cy="86.3" r="0.59" fill="#ee5f78"/>
<circle cx="276.3" cy="87.4" r="0.44" fill="#ee5f78"/>
<circle cx="272.0" cy="91.9" r="0.48" fill="#ee5f78"/>
<circle cx="272.4" cy="91.5" r="0.58" fill="#ee5f78"/>
<circle cx="271.8" cy="88.3" r="0.52" fill="#ee5f78"/>
<circle cx="268.7" cy="86.1" r="0.59" fill="#ee5f78"/>
<circle cx="272.0" cy="90.3" r="0.30" fill="#ee5f78"/>
<circle cx="241.1" cy="85.2" r="0.25" fill="#f08a98"/>
<circle cx="250.3" cy="85.5" r="0.26" fill="#f08a98"/>
<circle cx="250.9" cy="84.6" r="0.39" fill="#f08a98"/>
<circle cx="238.2" cy="85.9" r="0.40" fill="#f08a98"/>
<circle cx="223.0" cy="82.3" r="0.39" fill="#f08a98"/>
<circle cx="266.3" cy="83.4" r="0.34" fill="#f08a98"/>
<circle cx="249.3" cy="83.8" r="0.32" fill="#f08a98"/>
<circle cx="236.4" cy="84.0" r="0.37" fill="#f08a98"/>
<circle cx="235.8" cy="84.1" r="0.40" fill="#f08a98"/>
<circle cx="223.2" cy="85.1" r="0.40" fill="#f08a98"/>
<circle cx="236.3" cy="83.2" r="0.41" fill="#f08a98"/>
<circle cx="233.0" cy="83.0" r="0.34" fill="#f08a98"/>
<circle cx="254.1" cy="82.6" r="0.31" fill="#f08a98"/>
<circle cx="237.4" cy="86.6" r="0.34" fill="#f08a98"/>
<circle cx="261.4" cy="82.9" r="0.32" fill="#f08a98"/>
<circle cx="251.9" cy="86.9" r="0.34" fill="#f08a98"/>
</g>
<ellipse cx="143.2" cy="171.8" rx="21.7" ry="16.3" fill="#fff" stroke="#000" stroke-width="1.4"/>
<ellipse cx="77.4" cy="239.5" rx="21.4" ry="16.9" fill="#fff" stroke="#000" stroke-width="1.4"/>
<g transform="translate(135 170.7) rotate(28)"><path d="M-6.25 2.40 L-5.99 2.38 L-5.73 2.32 L-5.47 2.22 L-5.21 2.08 L-4.95 1.90 L-4.69 1.70 L-4.43 1.46 L-4.17 1.20 L-3.91 0.92 L-3.65 0.62 L-3.39 0.31 L-3.12 0.00 L-2.86 -0.31 L-2.60 -0.62 L-2.34 -0.92 L-2.08 -1.20 L-1.82 -1.46 L-1.56 -1.70 L-1.30 -1.90 L-1.04 -2.08 L-0.78 -2.22 L-0.52 -2.32 L-0.26 -2.38 L0.00 -2.40 L0.26 -2.38 L0.52 -2.32 L0.78 -2.22 L1.04 -2.08 L1.30 -1.90 L1.56 -1.70 L1.82 -1.46 L2.08 -1.20 L2.34 -0.92 L2.60 -0.62 L2.86 -0.31 L3.12 -0.00 L3.39 0.31 L3.65 0.62 L3.91 0.92 L4.17 1.20 L4.43 1.46 L4.69 1.70 L4.95 1.90 L5.21 2.08 L5.47 2.22 L5.73 2.32 L5.99 2.38 L6.25 2.40 L6.25 -2.40 L5.99 -2.38 L5.73 -2.32 L5.47 -2.22 L5.21 -2.08 L4.95 -1.90 L4.69 -1.70 L4.43 -1.46 L4.17 -1.20 L3.91 -0.92 L3.65 -0.62 L3.39 -0.31 L3.12 0.00 L2.86 0.31 L2.60 0.62 L2.34 0.92 L2.08 1.20 L1.82 1.46 L1.56 1.70 L1.30 1.90 L1.04 2.08 L0.78 2.22 L0.52 2.32 L0.26 2.38 L0.00 2.40 L-0.26 2.38 L-0.52 2.32 L-0.78 2.22 L-1.04 2.08 L-1.30 1.90 L-1.56 1.70 L-1.82 1.46 L-2.08 1.20 L-2.34 0.92 L-2.60 0.62 L-2.86 0.31 L-3.12 -0.00 L-3.39 -0.31 L-3.65 -0.62 L-3.91 -0.92 L-4.17 -1.20 L-4.43 -1.46 L-4.69 -1.70 L-4.95 -1.90 L-5.21 -2.08 L-5.47 -2.22 L-5.73 -2.32 L-5.99 -2.38 L-6.25 -2.40Z" fill="#ececec"/><path d="M-6.25 2.40V-2.40M-4.17 1.20V-1.20M-2.08 -1.20V1.20M0.00 -2.40V2.40M2.08 -1.20V1.20M4.17 1.20V-1.20M6.25 2.40V-2.40" stroke="#b0b0b0" stroke-width="0.4" fill="none"/><path d="M-6.25 2.40 L-5.99 2.38 L-5.73 2.32 L-5.47 2.22 L-5.21 2.08 L-4.95 1.90 L-4.69 1.70 L-4.43 1.46 L-4.17 1.20 L-3.91 0.92 L-3.65 0.62 L-3.39 0.31 L-3.12 0.00 L-2.86 -0.31 L-2.60 -0.62 L-2.34 -0.92 L-2.08 -1.20 L-1.82 -1.46 L-1.56 -1.70 L-1.30 -1.90 L-1.04 -2.08 L-0.78 -2.22 L-0.52 -2.32 L-0.26 -2.38 L0.00 -2.40 L0.26 -2.38 L0.52 -2.32 L0.78 -2.22 L1.04 -2.08 L1.30 -1.90 L1.56 -1.70 L1.82 -1.46 L2.08 -1.20 L2.34 -0.92 L2.60 -0.62 L2.86 -0.31 L3.12 -0.00 L3.39 0.31 L3.65 0.62 L3.91 0.92 L4.17 1.20 L4.43 1.46 L4.69 1.70 L4.95 1.90 L5.21 2.08 L5.47 2.22 L5.73 2.32 L5.99 2.38 L6.25 2.40" fill="none" stroke="#6c6c6c" stroke-width="0.8"/><path d="M-6.25 -2.40 L-5.99 -2.38 L-5.73 -2.32 L-5.47 -2.22 L-5.21 -2.08 L-4.95 -1.90 L-4.69 -1.70 L-4.43 -1.46 L-4.17 -1.20 L-3.91 -0.92 L-3.65 -0.62 L-3.39 -0.31 L-3.12 -0.00 L-2.86 0.31 L-2.60 0.62 L-2.34 0.92 L-2.08 1.20 L-1.82 1.46 L-1.56 1.70 L-1.30 1.90 L-1.04 2.08 L-0.78 2.22 L-0.52 2.32 L-0.26 2.38 L0.00 2.40 L0.26 2.38 L0.52 2.32 L0.78 2.22 L1.04 2.08 L1.30 1.90 L1.56 1.70 L1.82 1.46 L2.08 1.20 L2.34 0.92 L2.60 0.62 L2.86 0.31 L3.12 0.00 L3.39 -0.31 L3.65 -0.62 L3.91 -0.92 L4.17 -1.20 L4.43 -1.46 L4.69 -1.70 L4.95 -1.90 L5.21 -2.08 L5.47 -2.22 L5.73 -2.32 L5.99 -2.38 L6.25 -2.40" fill="none" stroke="#787878" stroke-width="0.8"/></g>
<g transform="translate(152 175.6) rotate(12)"><path d="M-6.25 2.40 L-5.99 2.38 L-5.73 2.32 L-5.47 2.22 L-5.21 2.08 L-4.95 1.90 L-4.69 1.70 L-4.43 1.46 L-4.17 1.20 L-3.91 0.92 L-3.65 0.62 L-3.39 0.31 L-3.12 0.00 L-2.86 -0.31 L-2.60 -0.62 L-2.34 -0.92 L-2.08 -1.20 L-1.82 -1.46 L-1.56 -1.70 L-1.30 -1.90 L-1.04 -2.08 L-0.78 -2.22 L-0.52 -2.32 L-0.26 -2.38 L0.00 -2.40 L0.26 -2.38 L0.52 -2.32 L0.78 -2.22 L1.04 -2.08 L1.30 -1.90 L1.56 -1.70 L1.82 -1.46 L2.08 -1.20 L2.34 -0.92 L2.60 -0.62 L2.86 -0.31 L3.12 -0.00 L3.39 0.31 L3.65 0.62 L3.91 0.92 L4.17 1.20 L4.43 1.46 L4.69 1.70 L4.95 1.90 L5.21 2.08 L5.47 2.22 L5.73 2.32 L5.99 2.38 L6.25 2.40 L6.25 -2.40 L5.99 -2.38 L5.73 -2.32 L5.47 -2.22 L5.21 -2.08 L4.95 -1.90 L4.69 -1.70 L4.43 -1.46 L4.17 -1.20 L3.91 -0.92 L3.65 -0.62 L3.39 -0.31 L3.12 0.00 L2.86 0.31 L2.60 0.62 L2.34 0.92 L2.08 1.20 L1.82 1.46 L1.56 1.70 L1.30 1.90 L1.04 2.08 L0.78 2.22 L0.52 2.32 L0.26 2.38 L0.00 2.40 L-0.26 2.38 L-0.52 2.32 L-0.78 2.22 L-1.04 2.08 L-1.30 1.90 L-1.56 1.70 L-1.82 1.46 L-2.08 1.20 L-2.34 0.92 L-2.60 0.62 L-2.86 0.31 L-3.12 -0.00 L-3.39 -0.31 L-3.65 -0.62 L-3.91 -0.92 L-4.17 -1.20 L-4.43 -1.46 L-4.69 -1.70 L-4.95 -1.90 L-5.21 -2.08 L-5.47 -2.22 L-5.73 -2.32 L-5.99 -2.38 L-6.25 -2.40Z" fill="#ececec"/><path d="M-6.25 2.40V-2.40M-4.17 1.20V-1.20M-2.08 -1.20V1.20M0.00 -2.40V2.40M2.08 -1.20V1.20M4.17 1.20V-1.20M6.25 2.40V-2.40" stroke="#b0b0b0" stroke-width="0.4" fill="none"/><path d="M-6.25 2.40 L-5.99 2.38 L-5.73 2.32 L-5.47 2.22 L-5.21 2.08 L-4.95 1.90 L-4.69 1.70 L-4.43 1.46 L-4.17 1.20 L-3.91 0.92 L-3.65 0.62 L-3.39 0.31 L-3.12 0.00 L-2.86 -0.31 L-2.60 -0.62 L-2.34 -0.92 L-2.08 -1.20 L-1.82 -1.46 L-1.56 -1.70 L-1.30 -1.90 L-1.04 -2.08 L-0.78 -2.22 L-0.52 -2.32 L-0.26 -2.38 L0.00 -2.40 L0.26 -2.38 L0.52 -2.32 L0.78 -2.22 L1.04 -2.08 L1.30 -1.90 L1.56 -1.70 L1.82 -1.46 L2.08 -1.20 L2.34 -0.92 L2.60 -0.62 L2.86 -0.31 L3.12 -0.00 L3.39 0.31 L3.65 0.62 L3.91 0.92 L4.17 1.20 L4.43 1.46 L4.69 1.70 L4.95 1.90 L5.21 2.08 L5.47 2.22 L5.73 2.32 L5.99 2.38 L6.25 2.40" fill="none" stroke="#6c6c6c" stroke-width="0.8"/><path d="M-6.25 -2.40 L-5.99 -2.38 L-5.73 -2.32 L-5.47 -2.22 L-5.21 -2.08 L-4.95 -1.90 L-4.69 -1.70 L-4.43 -1.46 L-4.17 -1.20 L-3.91 -0.92 L-3.65 -0.62 L-3.39 -0.31 L-3.12 -0.00 L-2.86 0.31 L-2.60 0.62 L-2.34 0.92 L-2.08 1.20 L-1.82 1.46 L-1.56 1.70 L-1.30 1.90 L-1.04 2.08 L-0.78 2.22 L-0.52 2.32 L-0.26 2.38 L0.00 2.40 L0.26 2.38 L0.52 2.32 L0.78 2.22 L1.04 2.08 L1.30 1.90 L1.56 1.70 L1.82 1.46 L2.08 1.20 L2.34 0.92 L2.60 0.62 L2.86 0.31 L3.12 0.00 L3.39 -0.31 L3.65 -0.62 L3.91 -0.92 L4.17 -1.20 L4.43 -1.46 L4.69 -1.70 L4.95 -1.90 L5.21 -2.08 L5.47 -2.22 L5.73 -2.32 L5.99 -2.38 L6.25 -2.40" fill="none" stroke="#787878" stroke-width="0.8"/></g>
<g transform="translate(75.6 240) rotate(0)"><path d="M-13.25 3.20 L-12.70 3.09 L-12.15 2.77 L-11.59 2.26 L-11.04 1.60 L-10.49 0.83 L-9.94 0.00 L-9.39 -0.83 L-8.83 -1.60 L-8.28 -2.26 L-7.73 -2.77 L-7.18 -3.09 L-6.62 -3.20 L-6.07 -3.09 L-5.52 -2.77 L-4.97 -2.26 L-4.42 -1.60 L-3.86 -0.83 L-3.31 -0.00 L-2.76 0.83 L-2.21 1.60 L-1.66 2.26 L-1.10 2.77 L-0.55 3.09 L0.00 3.20 L0.55 3.09 L1.10 2.77 L1.66 2.26 L2.21 1.60 L2.76 0.83 L3.31 0.00 L3.86 -0.83 L4.42 -1.60 L4.97 -2.26 L5.52 -2.77 L6.07 -3.09 L6.62 -3.20 L7.18 -3.09 L7.73 -2.77 L8.28 -2.26 L8.83 -1.60 L9.39 -0.83 L9.94 -0.00 L10.49 0.83 L11.04 1.60 L11.59 2.26 L12.15 2.77 L12.70 3.09 L13.25 3.20 L13.25 -3.20 L12.70 -3.09 L12.15 -2.77 L11.59 -2.26 L11.04 -1.60 L10.49 -0.83 L9.94 0.00 L9.39 0.83 L8.83 1.60 L8.28 2.26 L7.73 2.77 L7.18 3.09 L6.62 3.20 L6.07 3.09 L5.52 2.77 L4.97 2.26 L4.42 1.60 L3.86 0.83 L3.31 -0.00 L2.76 -0.83 L2.21 -1.60 L1.66 -2.26 L1.10 -2.77 L0.55 -3.09 L0.00 -3.20 L-0.55 -3.09 L-1.10 -2.77 L-1.66 -2.26 L-2.21 -1.60 L-2.76 -0.83 L-3.31 0.00 L-3.86 0.83 L-4.42 1.60 L-4.97 2.26 L-5.52 2.77 L-6.07 3.09 L-6.62 3.20 L-7.18 3.09 L-7.73 2.77 L-8.28 2.26 L-8.83 1.60 L-9.39 0.83 L-9.94 -0.00 L-10.49 -0.83 L-11.04 -1.60 L-11.59 -2.26 L-12.15 -2.77 L-12.70 -3.09 L-13.25 -3.20Z" fill="#d0d0d0"/><path d="M-13.25 3.20V-3.20M-11.04 1.60V-1.60M-8.83 -1.60V1.60M-6.62 -3.20V3.20M-4.42 -1.60V1.60M-2.21 1.60V-1.60M0.00 3.20V-3.20M2.21 1.60V-1.60M4.42 -1.60V1.60M6.62 -3.20V3.20M8.83 -1.60V1.60M11.04 1.60V-1.60M13.25 3.20V-3.20" stroke="#b0b0b0" stroke-width="0.4" fill="none"/><path d="M-13.25 3.20 L-12.70 3.09 L-12.15 2.77 L-11.59 2.26 L-11.04 1.60 L-10.49 0.83 L-9.94 0.00 L-9.39 -0.83 L-8.83 -1.60 L-8.28 -2.26 L-7.73 -2.77 L-7.18 -3.09 L-6.62 -3.20 L-6.07 -3.09 L-5.52 -2.77 L-4.97 -2.26 L-4.42 -1.60 L-3.86 -0.83 L-3.31 -0.00 L-2.76 0.83 L-2.21 1.60 L-1.66 2.26 L-1.10 2.77 L-0.55 3.09 L0.00 3.20 L0.55 3.09 L1.10 2.77 L1.66 2.26 L2.21 1.60 L2.76 0.83 L3.31 0.00 L3.86 -0.83 L4.42 -1.60 L4.97 -2.26 L5.52 -2.77 L6.07 -3.09 L6.62 -3.20 L7.18 -3.09 L7.73 -2.77 L8.28 -2.26 L8.83 -1.60 L9.39 -0.83 L9.94 -0.00 L10.49 0.83 L11.04 1.60 L11.59 2.26 L12.15 2.77 L12.70 3.09 L13.25 3.20" fill="none" stroke="#6c6c6c" stroke-width="0.8"/><path d="M-13.25 -3.20 L-12.70 -3.09 L-12.15 -2.77 L-11.59 -2.26 L-11.04 -1.60 L-10.49 -0.83 L-9.94 -0.00 L-9.39 0.83 L-8.83 1.60 L-8.28 2.26 L-7.73 2.77 L-7.18 3.09 L-6.62 3.20 L-6.07 3.09 L-5.52 2.77 L-4.97 2.26 L-4.42 1.60 L-3.86 0.83 L-3.31 0.00 L-2.76 -0.83 L-2.21 -1.60 L-1.66 -2.26 L-1.10 -2.77 L-0.55 -3.09 L0.00 -3.20 L0.55 -3.09 L1.10 -2.77 L1.66 -2.26 L2.21 -1.60 L2.76 -0.83 L3.31 -0.00 L3.86 0.83 L4.42 1.60 L4.97 2.26 L5.52 2.77 L6.07 3.09 L6.62 3.20 L7.18 3.09 L7.73 2.77 L8.28 2.26 L8.83 1.60 L9.39 0.83 L9.94 0.00 L10.49 -0.83 L11.04 -1.60 L11.59 -2.26 L12.15 -2.77 L12.70 -3.09 L13.25 -3.20" fill="none" stroke="#787878" stroke-width="0.8"/></g>
<polygon points="129.26,82.69 96.25,102.41 95.48,101.13 93.33,105.91 98.56,106.28 97.79,104.99 130.80,85.27" fill="#fff200" stroke="#000" stroke-width="1.1" stroke-linejoin="miter"/>
<text x="107.90" y="91.30" font-size="5.15" font-family="DejaVu Sans, Liberation Sans, sans-serif" font-weight="bold" stroke="#000" stroke-width="0.16" text-anchor="middle" dominant-baseline="central" fill="#000" transform="rotate(-30.85 107.90 91.30)">(RT-6)</text>
<text x="116.40" y="100.20" font-size="4.75" font-family="DejaVu Sans, Liberation Sans, sans-serif" font-weight="bold" stroke="#000" stroke-width="0.16" text-anchor="middle" dominant-baseline="central" fill="#000" transform="rotate(-30.85 116.40 100.20)">Delayed cell kill</text>
<polygon points="198.48,99.60 162.33,84.27 162.91,82.89 157.78,83.98 160.57,88.42 161.16,87.04 197.31,102.37" fill="#fff200" stroke="#000" stroke-width="1.1" stroke-linejoin="miter"/>
<text x="181.80" y="87.60" font-size="5.15" font-family="DejaVu Sans, Liberation Sans, sans-serif" font-weight="bold" stroke="#000" stroke-width="0.16" text-anchor="middle" dominant-baseline="central" fill="#000" transform="rotate(22.98 181.80 87.60)">(RT-5)</text>
<text x="176.10" y="99.80" font-size="4.75" font-family="DejaVu Sans, Liberation Sans, sans-serif" font-weight="bold" stroke="#000" stroke-width="0.16" text-anchor="middle" dominant-baseline="central" fill="#000" transform="rotate(22.98 176.10 99.80)">Vascular damage</text>
<polygon points="197.85,115.72 162.48,150.83 161.42,149.76 160.48,154.92 165.65,154.02 164.59,152.96 199.97,117.85" fill="#fff200" stroke="#000" stroke-width="1.1" stroke-linejoin="miter"/>
<text x="175.00" y="132.30" font-size="4.55" font-family="DejaVu Sans, Liberation Sans, sans-serif" font-weight="bold" stroke="#000" stroke-width="0.16" text-anchor="middle" dominant-baseline="central" fill="#000" transform="rotate(-44.78 175.00 132.30)">DNA damage</text>
<text x="184.30" y="141.50" font-size="5.15" font-family="DejaVu Sans, Liberation Sans, sans-serif" font-weight="bold" stroke="#000" stroke-width="0.16" text-anchor="middle" dominant-baseline="central" fill="#000" transform="rotate(-44.78 184.30 141.50)">(RT-2)</text>
<polygon points="124.53,156.24 95.65,138.04 96.45,136.77 91.21,137.01 93.25,141.84 94.05,140.57 122.93,158.78" fill="#fff200" stroke="#000" stroke-width="1.1" stroke-linejoin="miter"/>
<text x="111.60" y="142.30" font-size="4.75" font-family="DejaVu Sans, Liberation Sans, sans-serif" font-weight="bold" stroke="#000" stroke-width="0.16" text-anchor="middle" dominant-baseline="central" fill="#000" transform="rotate(32.22 111.60 142.30)">Early cell kill</text>
<text x="103.60" y="152.00" font-size="5.15" font-family="DejaVu Sans, Liberation Sans, sans-serif" font-weight="bold" stroke="#000" stroke-width="0.16" text-anchor="middle" dominant-baseline="central" fill="#000" transform="rotate(32.22 103.60 152.00)">(RT-4)</text>
<polygon points="125.75,190.13 97.57,218.22 96.51,217.16 95.58,222.32 100.74,221.41 99.69,220.35 127.87,192.25" fill="#fff200" stroke="#000" stroke-width="1.1" stroke-linejoin="miter"/>
<text x="102.80" y="200.20" font-size="4.65" font-family="DejaVu Sans, Liberation Sans, sans-serif" font-weight="bold" stroke="#000" stroke-width="0.16" text-anchor="middle" dominant-baseline="central" fill="#000" transform="rotate(-44.91 102.80 200.20)">DNA damage</text>
<text x="107.30" y="203.20" font-size="4.65" font-family="DejaVu Sans, Liberation Sans, sans-serif" font-weight="bold" stroke="#000" stroke-width="0.16" text-anchor="middle" dominant-baseline="central" fill="#000" transform="rotate(-44.91 107.30 203.20)">repaired</text>
<text x="116.50" y="211.10" font-size="5.15" font-family="DejaVu Sans, Liberation Sans, sans-serif" font-weight="bold" stroke="#000" stroke-width="0.16" text-anchor="middle" dominant-baseline="central" fill="#000" transform="rotate(-44.91 116.50 211.10)">(RT-3)</text>
<polygon points="293.64,93.47 336.12,75.66 336.68,77.00 339.01,72.99 334.52,71.84 335.08,73.17 292.59,90.98" fill="#f00" stroke="#000" stroke-width="0.9" stroke-linejoin="miter"/>
<text x="313.00" y="77.00" font-size="5.15" font-family="DejaVu Sans, Liberation Sans, sans-serif" font-weight="bold" stroke="#000" stroke-width="0.16" text-anchor="middle" dominant-baseline="central" fill="#000" transform="rotate(-22.74 313.00 77.00)">(HT-4)</text>
<text x="316.00" y="88.70" font-size="4.75" font-family="DejaVu Sans, Liberation Sans, sans-serif" font-weight="bold" stroke="#000" stroke-width="0.16" text-anchor="middle" dominant-baseline="central" fill="#000" transform="rotate(-22.74 316.00 88.70)">Vascular damage</text>
<polygon points="292.49,111.11 319.88,116.30 319.61,117.72 323.77,115.66 320.65,112.22 320.38,113.65 292.99,108.46" fill="#f00" stroke="#000" stroke-width="0.9" stroke-linejoin="miter"/>
<text x="310.00" y="107.20" font-size="5.15" font-family="DejaVu Sans, Liberation Sans, sans-serif" font-weight="bold" stroke="#000" stroke-width="0.16" text-anchor="middle" dominant-baseline="central" fill="#000" transform="rotate(10.73 310.00 107.20)">(HT-2)</text>
<text x="307.50" y="118.40" font-size="4.75" font-family="DejaVu Sans, Liberation Sans, sans-serif" font-weight="bold" stroke="#000" stroke-width="0.16" text-anchor="middle" dominant-baseline="central" fill="#000" transform="rotate(10.73 307.50 118.40)">Cell kill</text>
<polygon points="281.83,136.59 325.35,185.59 324.34,186.48 328.93,187.36 328.60,182.70 327.59,183.59 284.07,134.60" fill="#f00" stroke="#000" stroke-width="1.05" stroke-linejoin="miter"/>
<text x="310.80" y="157.30" font-size="4.75" font-family="DejaVu Sans, Liberation Sans, sans-serif" font-weight="bold" stroke="#000" stroke-width="0.16" text-anchor="middle" dominant-baseline="central" fill="#000" transform="rotate(48.39 310.80 157.30)">Increased oxygenation</text>
<text x="303.40" y="167.70" font-size="5.15" font-family="DejaVu Sans, Liberation Sans, sans-serif" font-weight="bold" stroke="#000" stroke-width="0.16" text-anchor="middle" dominant-baseline="central" fill="#000" transform="rotate(48.39 303.40 167.70)">(HT-7)</text>
<polygon points="292.94,130.45 416.15,209.01 415.42,210.15 420.07,209.74 418.49,205.35 417.76,206.48 294.55,127.92" fill="#f00" stroke="#000" stroke-width="1.05" stroke-linejoin="miter"/>
<text x="371.80" y="172.60" font-size="5.15" font-family="DejaVu Sans, Liberation Sans, sans-serif" font-weight="bold" stroke="#000" stroke-width="0.16" text-anchor="middle" dominant-baseline="central" fill="#000" transform="rotate(32.52 371.80 172.60)">(HT-9)</text>
<text x="365.50" y="181.20" font-size="4.75" font-family="DejaVu Sans, Liberation Sans, sans-serif" font-weight="bold" stroke="#000" stroke-width="0.16" text-anchor="middle" dominant-baseline="central" fill="#000" transform="rotate(32.52 365.50 181.20)">Protein denaturation</text>
<polygon points="417.45,32.45 451.55,32.45 451.55,33.90 455.25,31.10 451.55,28.30 451.55,29.75 417.45,29.75" fill="#f00" stroke="#000" stroke-width="0.9" stroke-linejoin="miter"/>
<text x="434.70" y="14.20" font-size="4.5" font-family="DejaVu Sans, Liberation Sans, sans-serif" font-weight="bold" stroke="#000" stroke-width="0.16" text-anchor="middle" dominant-baseline="central" fill="#000">Increased</text>
<text x="434.70" y="19.40" font-size="4.5" font-family="DejaVu Sans, Liberation Sans, sans-serif" font-weight="bold" stroke="#000" stroke-width="0.16" text-anchor="middle" dominant-baseline="central" fill="#000">poor micro-</text>
<text x="434.70" y="25.00" font-size="4.5" font-family="DejaVu Sans, Liberation Sans, sans-serif" font-weight="bold" stroke="#000" stroke-width="0.16" text-anchor="middle" dominant-baseline="central" fill="#000">environment</text>
<text x="434.70" y="37.80" font-size="5.15" font-family="DejaVu Sans, Liberation Sans, sans-serif" font-weight="bold" stroke="#000" stroke-width="0.16" text-anchor="middle" dominant-baseline="central" fill="#000">(HT-6)</text>
<polygon points="416.18,52.68 465.27,100.37 464.26,101.41 468.87,101.98 468.16,97.39 467.15,98.43 418.06,50.75" fill="#f00" stroke="#000" stroke-width="0.9" stroke-linejoin="miter"/>
<text x="450.10" y="74.80" font-size="5.15" font-family="DejaVu Sans, Liberation Sans, sans-serif" font-weight="bold" stroke="#000" stroke-width="0.16" text-anchor="middle" dominant-baseline="central" fill="#000" transform="rotate(44.17 450.10 74.80)">(HT-5)</text>
<text x="442.20" y="85.10" font-size="4.75" font-family="DejaVu Sans, Liberation Sans, sans-serif" font-weight="bold" stroke="#000" stroke-width="0.16" text-anchor="middle" dominant-baseline="central" fill="#000" transform="rotate(44.17 442.20 85.10)">Affects tumor</text>
<text x="437.80" y="88.80" font-size="4.75" font-family="DejaVu Sans, Liberation Sans, sans-serif" font-weight="bold" stroke="#000" stroke-width="0.16" text-anchor="middle" dominant-baseline="central" fill="#000" transform="rotate(44.17 437.80 88.80)">growth delay</text>
<polygon points="422.68,131.62 461.06,142.13 460.67,143.53 464.98,141.80 462.15,138.13 461.77,139.52 423.39,129.02" fill="#f00" stroke="#000" stroke-width="0.9" stroke-linejoin="miter"/>
<text x="443.40" y="128.50" font-size="5.15" font-family="DejaVu Sans, Liberation Sans, sans-serif" font-weight="bold" stroke="#000" stroke-width="0.16" text-anchor="middle" dominant-baseline="central" fill="#000" transform="rotate(15.31 443.40 128.50)">(HT-3)</text>
<text x="442.20" y="141.50" font-size="4.75" font-family="DejaVu Sans, Liberation Sans, sans-serif" font-weight="bold" stroke="#000" stroke-width="0.16" text-anchor="middle" dominant-baseline="central" fill="#000" transform="rotate(15.31 442.20 141.50)">Affects tumor</text>
<text x="440.00" y="147.40" font-size="4.75" font-family="DejaVu Sans, Liberation Sans, sans-serif" font-weight="bold" stroke="#000" stroke-width="0.16" text-anchor="middle" dominant-baseline="central" fill="#000" transform="rotate(15.31 440.00 147.40)">growth delay</text>
<polygon points="281.78,217.56 173.12,181.95 173.57,180.57 168.83,182.17 171.70,186.27 172.15,184.89 280.82,220.51" fill="#f00" stroke="#000" stroke-width="1.05" stroke-linejoin="miter"/>
<text x="229.50" y="195.30" font-size="5.15" font-family="DejaVu Sans, Liberation Sans, sans-serif" font-weight="bold" stroke="#000" stroke-width="0.16" text-anchor="middle" dominant-baseline="central" fill="#000" transform="rotate(18.15 229.50 195.30)">(HT-8)</text>
<text x="221.50" y="207.10" font-size="4.75" font-family="DejaVu Sans, Liberation Sans, sans-serif" font-weight="bold" stroke="#000" stroke-width="0.16" text-anchor="middle" dominant-baseline="central" fill="#000" transform="rotate(18.15 221.50 207.10)">Additional DNA damage</text>
<path d="M121.5 214.9 L182.5 267.4 L384.6 267.4" fill="none" stroke="#0d1a6b" stroke-width="3.8" stroke-linejoin="miter"/>
<path d="M116 221 L127 208.8" fill="none" stroke="#0d1a6b" stroke-width="3.8"/>
<path d="M121.5 214.9 L182.5 267.4 L384 267.4" fill="none" stroke="#f00" stroke-width="2.2" stroke-linejoin="miter"/>
<path d="M116.5 220.45 L126.5 209.35" fill="none" stroke="#f00" stroke-width="2.2"/>
<text x="230.70" y="262.00" font-size="5.15" font-family="DejaVu Sans, Liberation Sans, sans-serif" font-weight="bold" stroke="#000" stroke-width="0.16" text-anchor="middle" dominant-baseline="central" fill="#000">(HT-10)</text>
<text x="232.80" y="274.20" font-size="4.65" font-family="DejaVu Sans, Liberation Sans, sans-serif" font-weight="bold" stroke="#000" stroke-width="0.16" text-anchor="middle" dominant-baseline="central" fill="#000">Inhibition of DNA damage repair</text>
</svg>
</body></html>
